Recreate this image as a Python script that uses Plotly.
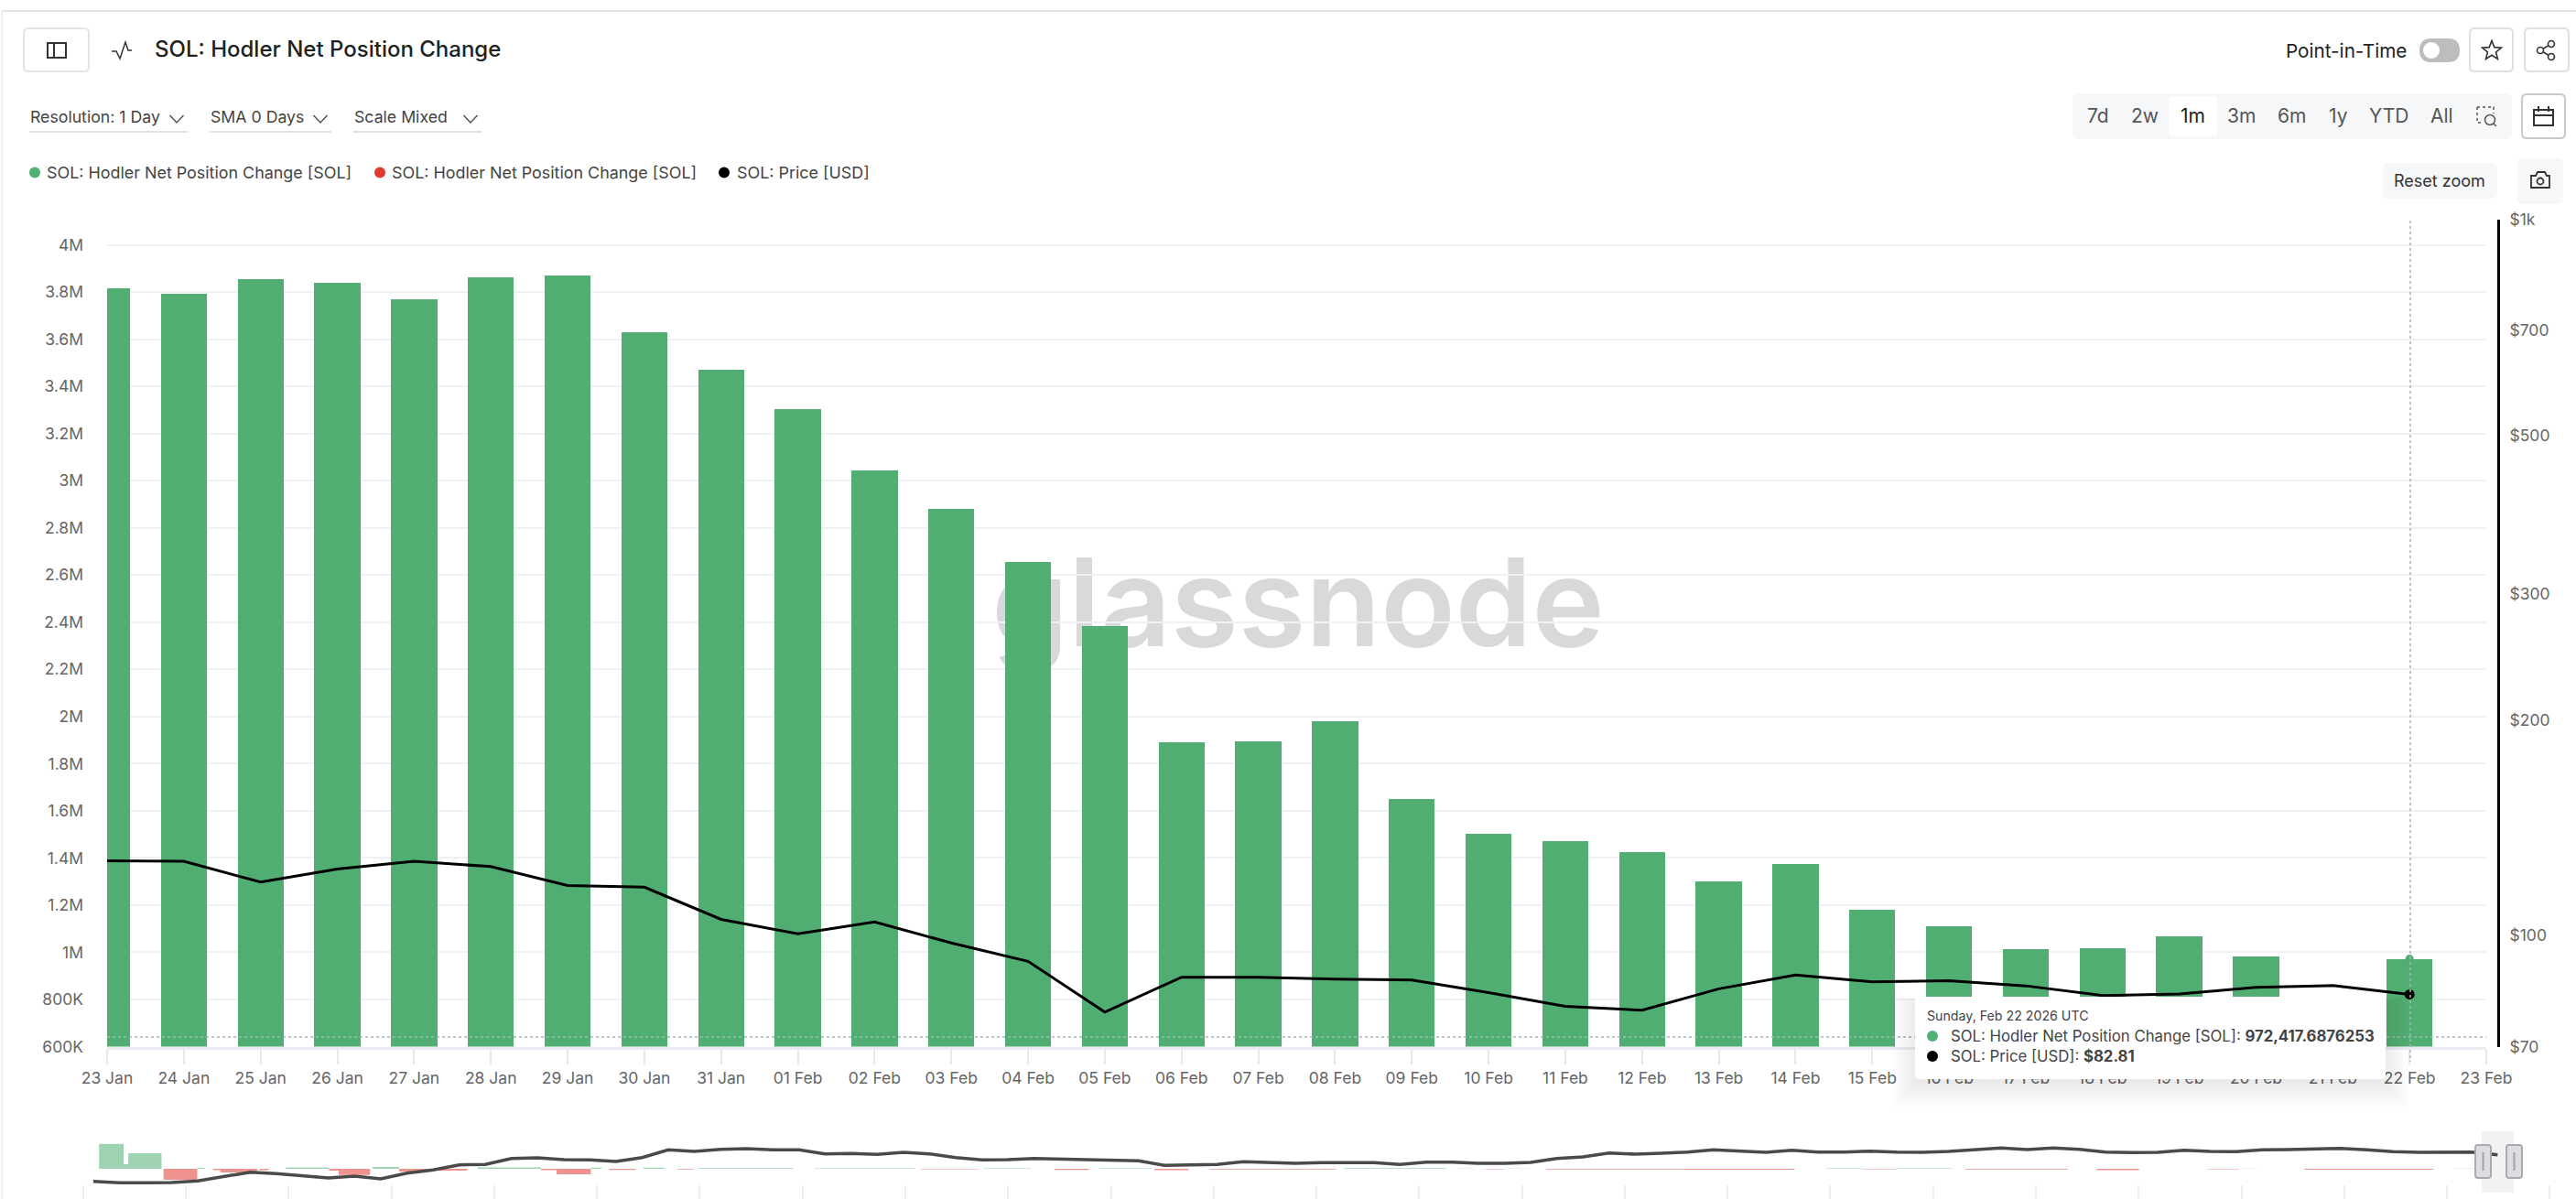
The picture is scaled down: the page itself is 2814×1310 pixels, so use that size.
import math
import plotly.graph_objects as go

W, H = 2814, 1310

# daily bars and price
dates = ['2026-01-23', '2026-01-24', '2026-01-25', '2026-01-26', '2026-01-27', '2026-01-28', '2026-01-29',
         '2026-01-30', '2026-01-31', '2026-02-01', '2026-02-02', '2026-02-03', '2026-02-04', '2026-02-05',
         '2026-02-06', '2026-02-07', '2026-02-08', '2026-02-09', '2026-02-10', '2026-02-11', '2026-02-12',
         '2026-02-13', '2026-02-14', '2026-02-15', '2026-02-16', '2026-02-17', '2026-02-18', '2026-02-19',
         '2026-02-20', '2026-02-21', '2026-02-22']
net_position = [3816000, 3793000, 3855000, 3840000, 3770000, 3863000, 3871000,
                3630000, 3471000, 3304000, 3044000, 2881000, 2656000, 2382000,
                1890000, 1894000, 1979000, 1650000, 1503000, 1472000, 1426000,
                1302000, 1375000, 1182000, 1112000, 1015000, 1019000, 1069000,
                983000, 800000, 972417.6876253]
price = [127.2, 127.0, 118.8, 123.9, 127.0, 124.9, 117.5,
         116.9, 105.4, 100.6, 104.5, 97.7, 92.1, 78.2,
         87.5, 87.5, 87.0, 86.7, 83.3, 79.7, 78.7,
         84.3, 88.1, 86.2, 86.5, 85.1, 82.5, 82.9,
         84.7, 85.2, 82.81]

left_ticks = [600000, 800000, 1000000, 1200000, 1400000, 1600000, 1800000, 2000000, 2200000,
              2400000, 2600000, 2800000, 3000000, 3200000, 3400000, 3600000, 3800000, 4000000]
left_labels = ['600K', '800K', '1M', '1.2M', '1.4M', '1.6M', '1.8M', '2M', '2.2M',
               '2.4M', '2.6M', '2.8M', '3M', '3.2M', '3.4M', '3.6M', '3.8M', '4M']
right_ticks = [70, 100, 200, 300, 500, 700, 1000]
right_labels = ['$70', '$100', '$200', '$300', '$500', '$700', '$1k']

# overview strip under the chart, read by eye
mini_price = [-13.7, -15.3, -15.3, -15, -13.3, -8.3, -3.7, -5.3, -7.7, -10, -8, -11, -4.7, -1.3, 4.3, 4.7,
              11.3, 12, 10, 9.7, 8, 12.3, 20.7, 19, 21.3, 22, 20.7, 20.7, 16.3, 16.7, 15.7,
              18, 16.3, 12.3, 9.7, 10, 11.3, 10.7, 9.3, 9.3, 8.7, 3.7, 4, 4.7, 7.7, 7, 6,
              6.7, 6.7, 6.7, 4.7, 7.3, 7.3, 6, 6, 7, 11.3, 13, 17.3, 16, 17, 18.3,
              20.7, 19.3, 18, 20.3, 18.3, 18.3, 19.3, 18.3, 18, 19, 20.7, 22.7, 21, 22.7, 21.3, 18.3,
              17.7, 18, 20.3, 19, 18.7, 20.7, 21, 22, 22.3, 20.7, 18.7, 18, 18, 18.3, 15.3]
mini_flow_t = [0.22, 1.16, 1.34, 2.61, 2.69, 3.98, 4.26, 4.58, 4.86, 6.27, 6.37, 6.71, 7.37, 9.02, 9.39, 10.59,
               10.69, 11.70, 12.91, 14.31, 14.71, 17.13, 17.73, 19.04, 19.44, 19.74, 20.75, 21.05, 21.85,
               22.36, 22.96, 23.16, 26.78, 27.59, 30.05, 31.46, 31.66, 33.87, 34.07, 35.88, 36.79, 38.09,
               38.5, 40.51, 40.61, 41.91, 42.72, 47.55, 47.85, 51.77, 52.17, 52.77, 53.28, 53.98, 54.99,
               55.59, 60.88, 65.10, 66.31, 67.72, 69.02, 71.14, 71.64, 75.56, 76.67, 78.28, 80.89, 82.10,
               82.20, 82.80, 84.61, 89.54, 90.34, 91.15]
mini_flow_v = [27.3, 5, 17, 0, -12, 1, 0, -1.5, -4, 0, -1.5, 0, 1.5, -2, -6.7, 0,
               2, -3, -2, 0, 1.5, -1.5, -6, 1.2, 0, -1.3, 0, 1.2, 0,
               -0.8, 0, 0.7, 0, 0.6, 0.5, 0, -0.6, 0, 0.5, 0, -1.2, 0,
               0.6, 0, -1.5, 0, -0.7, 0, 0.7, 0, 0.3, 0, -0.4, 0.3, 0,
               -0.8, -0.9, 0, 0.4, -0.6, 0.4, 0, -0.7, 0, -1.5, 0, -0.4, 0,
               0.3, 0, -1, 0, 0.3, 0]

GREEN = '#50ae72'
RED = '#e03a2f'
GRID = '#f0f1f5'
TICK = '#666666'
BORDER = '#e2e2e2'
FONT = 'Inter'


def px(x):
    return x / W


def py(y):
    return 1 - y / H


shapes = []
annotations = []


def poly(points, color='#333333', width=2, closed=False, fill=None, dash=None, layer='above'):
    d = 'M' + ' L'.join(f'{px(x):.6f},{py(y):.6f}' for x, y in points)
    if closed:
        d += ' Z'
    shapes.append(dict(type='path', path=d, xref='paper', yref='paper', layer=layer,
                       fillcolor=fill or 'rgba(0,0,0,0)',
                       line=dict(color=color, width=width, dash=dash or 'solid')))


def rrect(x0, y0, x1, y1, r=5, color=BORDER, width=2, fill=None):
    d = (f'M{px(x0 + r):.6f},{py(y0):.6f} L{px(x1 - r):.6f},{py(y0):.6f} '
         f'Q{px(x1):.6f},{py(y0):.6f} {px(x1):.6f},{py(y0 + r):.6f} '
         f'L{px(x1):.6f},{py(y1 - r):.6f} Q{px(x1):.6f},{py(y1):.6f} {px(x1 - r):.6f},{py(y1):.6f} '
         f'L{px(x0 + r):.6f},{py(y1):.6f} Q{px(x0):.6f},{py(y1):.6f} {px(x0):.6f},{py(y1 - r):.6f} '
         f'L{px(x0):.6f},{py(y0 + r):.6f} Q{px(x0):.6f},{py(y0):.6f} {px(x0 + r):.6f},{py(y0):.6f} Z')
    shapes.append(dict(type='path', path=d, xref='paper', yref='paper', layer='above',
                       fillcolor=fill or 'rgba(0,0,0,0)',
                       line=dict(color=color, width=width)))


def dot(cx, cy, r, fill, color=None, width=0):
    shapes.append(dict(type='circle', xref='paper', yref='paper', layer='above',
                       x0=px(cx - r), x1=px(cx + r), y0=py(cy + r), y1=py(cy - r),
                       fillcolor=fill, line=dict(color=color or fill, width=width)))


def label(x, y, text, size=18, color='#444444', anchor='left', weight=None):
    f = dict(family=FONT, size=size, color=color)
    if weight:
        f['weight'] = weight
    annotations.append(dict(x=px(x), y=py(y), xref='paper', yref='paper', text=text, showarrow=False,
                            xanchor=anchor, yanchor='middle', font=f, borderpad=0))


def chevron(cx, cy, w=15, h=8):
    poly([(cx - w / 2, cy - h / 2), (cx, cy + h / 2), (cx + w / 2, cy - h / 2)], color='#555555', width=1.5)


# page frame
poly([(2, 12), (W, 12)], color='#e4e4e4', width=2)
poly([(2, 12), (2, H)], color='#efefef', width=2)

# header left
rrect(26, 31, 97, 78, color='#e4e4e4')
poly([(52, 47), (72, 47), (72, 63), (52, 63)], closed=True, color='#333333', width=2)
poly([(59, 47), (59, 63)], color='#333333', width=2)
poly([(122, 56), (127, 56), (131, 64), (137, 46), (140, 55), (144, 55)], color='#333333', width=1.5)
label(168, 54, 'SOL: Hodler Net Position Change', size=24, color='#222222', weight=500)

# dropdowns
label(32, 128, 'Resolution: 1 Day', size=17.7)
chevron(193, 130)
poly([(32, 144), (205, 144)], color=BORDER, width=2)
label(229, 128, 'SMA 0 Days', size=17.7)
chevron(350, 130)
poly([(229, 144), (362, 144)], color=BORDER, width=2)
label(386, 128, 'Scale Mixed', size=17.7)
chevron(514, 130)
poly([(386, 144), (526, 144)], color=BORDER, width=2)

# legend row
dot(38, 188.5, 6, '#4fb173')
label(50, 188, 'SOL: Hodler Net Position Change [SOL]', size=17.9)
dot(415, 188.5, 6, RED)
label(427, 188, 'SOL: Hodler Net Position Change [SOL]', size=17.9)
dot(791, 188.5, 6, '#000000')
label(804, 188, 'SOL: Price [USD]', size=17.9)

# header right
label(2496, 55, 'Point-in-Time', size=20.7, color='#222222')
rrect(2644, 43, 2686, 67, r=12, color='#bdbdbd', fill='#bdbdbd')
dot(2656, 55, 9, '#ffffff')
rrect(2698, 31, 2745, 78, color='#e0e0e0')
star = []
for i in range(10):
    r = 11 if i % 2 == 0 else 4.8
    a = -math.pi / 2 + i * math.pi / 5
    star.append((2722 + r * math.cos(a), 55.5 + r * math.sin(a)))
poly(star, closed=True, color='#333333', width=1.6)
rrect(2758, 31, 2806, 78, color='#e0e0e0')
poly([(2775, 55), (2787, 48)], color='#333333', width=1.6)
poly([(2775, 55), (2787, 62)], color='#333333', width=1.6)
dot(2775, 55, 3.5, '#ffffff', '#333333', 1.6)
dot(2787, 48, 3.5, '#ffffff', '#333333', 1.6)
dot(2787, 62, 3.5, '#ffffff', '#333333', 1.6)

# range buttons
rrect(2265, 103, 2743, 151, r=6, color='#f6f7f9', fill='#f6f7f9')
rrect(2370, 106, 2421, 148, r=4, color='#ffffff', fill='#ffffff')
for name, cx, col in [('7d', 2292, '#555555'), ('2w', 2343, '#555555'), ('1m', 2395, '#222222'),
                      ('3m', 2448, '#555555'), ('6m', 2503, '#555555'), ('1y', 2554, '#555555'),
                      ('YTD', 2609, '#555555'), ('All', 2667, '#555555')]:
    label(cx, 126, name, size=21, color=col, anchor='center')
poly([(2706, 117), (2724, 117), (2724, 124)], color='#555555', width=1.5, dash='dot')
poly([(2706, 117), (2706, 134), (2713, 134)], color='#555555', width=1.5, dash='dot')
dot(2720, 131, 5.5, 'rgba(0,0,0,0)', '#555555', 1.5)
poly([(2724, 135), (2727, 138)], color='#555555', width=1.5)
rrect(2755, 103, 2802, 151, color='#c9c9c9')
poly([(2768, 120), (2789, 120), (2789, 137), (2768, 137)], closed=True, color='#333333', width=2)
poly([(2768, 126), (2789, 126)], color='#333333', width=2)
poly([(2773, 116), (2773, 122)], color='#333333', width=2)
poly([(2784, 116), (2784, 122)], color='#333333', width=2)

rrect(2603, 179, 2727, 216, r=6, color='#f6f7f9', fill='#f6f7f9')
label(2665, 197, 'Reset zoom', size=18, color='#333333', anchor='center')
rrect(2751, 174, 2799, 222, r=6, color='#f6f7f9', fill='#f6f7f9')
poly([(2765, 192), (2770, 192), (2772, 188), (2780, 188), (2782, 192), (2785, 192), (2785, 205), (2765, 205)],
     closed=True, color='#333333', width=1.8)
dot(2775, 198, 3.5, 'rgba(0,0,0,0)', '#333333', 1.8)

# crosshair
poly([(117, 1133), (2716, 1133)], color='#a9b2be', width=1.5, dash='dot')
poly([(2633, 241), (2633, 1160)], color='#a9b2be', width=1.5, dash='dot')

# tooltip, soft shadow first
for i in range(7):
    rrect(2092 - i * 4, 1089 - i + 6, 2606 + i * 4, 1179 + i * 4 + 6, r=6, color='rgba(0,0,0,0)', width=0,
          fill='rgba(0,0,0,0.012)')
rrect(2092, 1089, 2606, 1179, r=4, color='#ffffff', width=0, fill='#ffffff')
label(2104, 1109, 'Sunday, Feb 22 2026 UTC', size=14.2, color='#444444')
dot(2111, 1132, 6, '#4fb173')
label(2130, 1132, 'SOL: Hodler Net Position Change [SOL]: <b>972,417.6876253</b>', size=16.75, color='#444444')
dot(2111, 1154, 6, '#000000')
label(2130, 1154, 'SOL: Price [USD]: <b>$82.81</b>', size=16.75, color='#444444')

# overview handles
shapes.insert(0, dict(type='rect', xref='paper', yref='paper', layer='below', x0=px(2711), x1=px(2746),
                      y0=py(1303), y1=py(1236), fillcolor='#f2f2f2', line=dict(width=0)))
for x0 in (2704, 2738):
    rrect(x0, 1251, x0 + 17, 1287, r=3, color='#a9abb0', fill='#dcdde0')
    poly([(x0 + 8.5, 1259), (x0 + 8.5, 1279)], color='#a0a2a6', width=2)

# watermark under the gridlines
shapes.append(dict(type='rect', xref='paper', yref='paper', layer='below',
                   x0=px(1086), x1=px(1750), y0=py(738), y1=py(568),
                   fillcolor='rgba(0,0,0,0)', line=dict(width=0),
                   label=dict(text='glassnode', textposition='middle center',
                              font=dict(family=FONT, size=134, color='#d9d9d9', weight=600))))

fig = go.Figure()

fig.add_trace(go.Bar(x=dates, y=net_position, marker=dict(color=GREEN, line=dict(width=0)),
                     width=0.6 * 86400000, xaxis='x', yaxis='y', name='SOL: Hodler Net Position Change [SOL]'))
fig.add_trace(go.Scatter(x=dates[-1:], y=net_position[-1:], mode='markers', marker=dict(color=GREEN, size=9),
                         xaxis='x', yaxis='y', showlegend=False))
fig.add_trace(go.Scatter(x=dates, y=price, mode='lines', line=dict(color='#000000', width=3),
                         xaxis='x', yaxis='y2', name='SOL: Price [USD]'))
fig.add_trace(go.Scatter(x=dates[-1:], y=price[-1:], mode='markers', marker=dict(color='#000000', size=11),
                         xaxis='x', yaxis='y2', showlegend=False))

fig.add_trace(go.Scatter(x=mini_flow_t, y=[max(v, 0) for v in mini_flow_v], mode='lines', fill='tozeroy',
                         line=dict(width=0, shape='hv'), fillcolor='rgba(79,175,113,0.55)',
                         xaxis='x3', yaxis='y3', showlegend=False))
fig.add_trace(go.Scatter(x=mini_flow_t, y=[min(v, 0) for v in mini_flow_v], mode='lines', fill='tozeroy',
                         line=dict(width=0, shape='hv'), fillcolor='rgba(224,58,47,0.55)',
                         xaxis='x3', yaxis='y3', showlegend=False))
fig.add_trace(go.Scatter(x=list(range(len(mini_price))), y=mini_price, mode='lines',
                         line=dict(color='#4a4a4a', width=3.5), xaxis='x3', yaxis='y3', showlegend=False))

fig.update_layout(
    width=W, height=H, autosize=False,
    margin=dict(l=0, r=0, t=0, b=0, autoexpand=False),
    paper_bgcolor='#ffffff', plot_bgcolor='rgba(0,0,0,0)',
    showlegend=False, bargap=0,
    font=dict(family=FONT, size=18, color=TICK),
    shapes=shapes, annotations=annotations,
    xaxis=dict(type='date', domain=[px(117), px(2716)], range=['2026-01-23', '2026-02-23'], automargin=False,
               tick0='2026-01-23', dtick=86400000, tickformat='%d %b', ticks='outside', ticklen=16, tickwidth=1.5,
               tickcolor='#e6e8ec', showgrid=False, showline=True, linecolor='#eaecf2', linewidth=3,
               tickfont=dict(family=FONT, size=17.5, color=TICK), anchor='y', zeroline=False),
    yaxis=dict(domain=[py(1143.5), py(240)], range=[600000, 4107500], tickvals=left_ticks, ticktext=left_labels,
               showgrid=True, gridcolor=GRID, gridwidth=2, showline=False, zeroline=False, ticks='', automargin=False,
               ticklabelstandoff=25, tickfont=dict(family=FONT, size=17.5, color=TICK), anchor='x'),
    yaxis2=dict(domain=[py(1143.5), py(240)], type='log', range=[math.log10(70), 3], overlaying='y', side='right',
                anchor='free', position=px(2729), tickvals=right_ticks, ticktext=right_labels, automargin=False,
                showgrid=False, showline=True, linecolor='#000000', linewidth=3, zeroline=False, ticks='',
                ticklabelstandoff=7, tickfont=dict(family=FONT, size=17.5, color=TICK)),
    xaxis3=dict(domain=[0, 1], range=[-3.57, 95], tick0=3.54, dtick=3.933, showticklabels=False, ticks='inside',
                ticklen=15, tickwidth=1.5, tickcolor='#eceef1', showgrid=False, zeroline=False, showline=False,
                automargin=False, anchor='y3'),
    yaxis3=dict(domain=[0, py(1230)], range=[-33, 47], showticklabels=False, showgrid=False, zeroline=False,
                showline=False, automargin=False, anchor='x3'),
)

fig.write_html('out.html', config=dict(displayModeBar=False), post_script="document.body.style.margin='0';")
